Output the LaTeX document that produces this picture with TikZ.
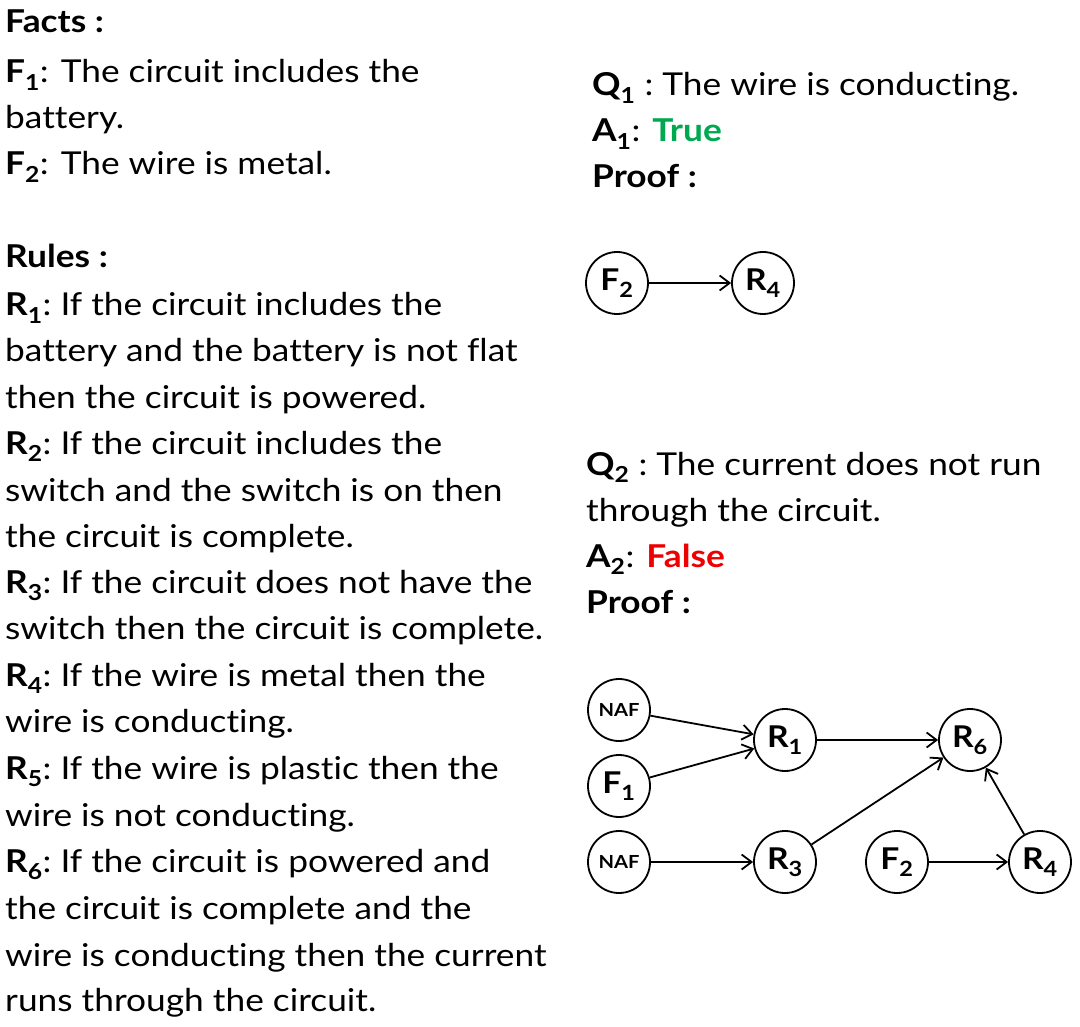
\documentclass[tikz,border=0pt]{standalone}
\usepackage{fontspec}
\setmainfont{Lato}[FakeStretch=1.12,Ligatures={NoCommon,NoRare}]
\usetikzlibrary{arrows.meta}
\definecolor{tgreen}{RGB}{0,168,80}
\definecolor{fred}{RGB}{238,0,0}
\newcommand{\bs}[2]{{\bfseries #1}\textsubscript{\bfseries #2}}
\begin{document}
\begin{tikzpicture}[x=1pt,y=-1pt,
  txt/.style={anchor=base west,inner sep=0pt,font=\fontsize{31.5}{36}\selectfont},
  nd/.style={circle,draw,line width=1.8pt,minimum size=62pt,inner sep=0pt,font=\fontsize{30}{34}\selectfont\bfseries},
  naf/.style={nd,font=\fontsize{18}{20}\selectfont\bfseries},
  ar/.style={-{Straight Barb[length=10pt,width=15pt]},line width=1.8pt}]
\useasboundingbox (0,0) rectangle (1080,1027);
% left column
\node[txt] (l0) at (5,33) {\bfseries Facts :};
\node[txt] (l1) at (5,83) {\bs{F}{1}: The circuit includes the};
\node[txt] (l2) at (5,129) {battery.};
\node[txt] (l3) at (5,175) {\bs{F}{2}: The wire is metal.};
\node[txt] (l4) at (5,268) {\bfseries Rules :};
\node[txt] (l5) at (5,316) {\bs{R}{1}:\ If the circuit includes the};
\node[txt] (l6) at (5,362) {battery and the battery is not flat};
\node[txt] (l7) at (5,408) {then the circuit is powered.};
\node[txt] (l8) at (5,454) {\bs{R}{2}:\ If the circuit includes the};
\node[txt] (l9) at (5,501) {switch and the switch is on then};
\node[txt] (l10) at (5,547) {the circuit is complete.};
\node[txt] (l11) at (5,593) {\bs{R}{3}:\ If the circuit does not have the};
\node[txt] (l12) at (5,639) {switch then the circuit is complete.};
\node[txt] (l13) at (5,686) {\bs{R}{4}:\ If the wire is metal then the};
\node[txt] (l14) at (5,732) {wire is conducting.};
\node[txt] (l15) at (5,779) {\bs{R}{5}:\ If the wire is plastic then the};
\node[txt] (l16) at (5,826) {wire is not conducting.};
\node[txt] (l17) at (5,872) {\bs{R}{6}:\ If the circuit is powered and};
\node[txt] (l18) at (5,919) {the circuit is complete and the};
\node[txt] (l19) at (5,966) {wire is conducting then the current};
\node[txt] (l20) at (5,1011) {runs through the circuit.};
% right column
\node[txt] (q1) at (592,96) {\bs{Q}{1} :\ The wire is conducting.};
\node[txt] (a1) at (592,142) {\bs{A}{1}: \textcolor{tgreen}{\bfseries True}};
\node[txt] (p1) at (592,188) {\bfseries Proof :};
\node[nd] (g1f2) at (617,283) {\bs{F}{2}};
\node[nd] (g1r4) at (763,283) {\bs{R}{4}};
\draw[ar] (g1f2) -- (g1r4);
\node[txt] (q2) at (586,475) {\bs{Q}{2} :\ The current does not run};
\node[txt] (q2b) at (586,521) {through the circuit.};
\node[txt] (a2) at (586,567) {\bs{A}{2}: \textcolor{fred}{\bfseries False}};
\node[txt] (p2) at (586,613) {\bfseries Proof :};
\node[naf] (naf1) at (619,710) {NAF};
\node[nd] (f1) at (619,786) {\bs{F}{1}};
\node[naf] (naf2) at (619,862) {NAF};
\node[nd] (r1) at (785,740) {\bs{R}{1}};
\node[nd] (r6) at (970,740) {\bs{R}{6}};
\node[nd] (r3) at (785,862) {\bs{R}{3}};
\node[nd] (f2) at (897,862) {\bs{F}{2}};
\node[nd] (r4) at (1040,862) {\bs{R}{4}};
\draw[ar] (naf1) -- (r1);
\draw[ar] (f1) -- (r1);
\draw[ar] (r1) -- (r6);
\draw[ar] (naf2) -- (r3);
\draw[ar] (r3) -- (r6);
\draw[ar] (f2) -- (r4);
\draw[ar] (r4) -- (r6);
\end{tikzpicture}
\end{document}
